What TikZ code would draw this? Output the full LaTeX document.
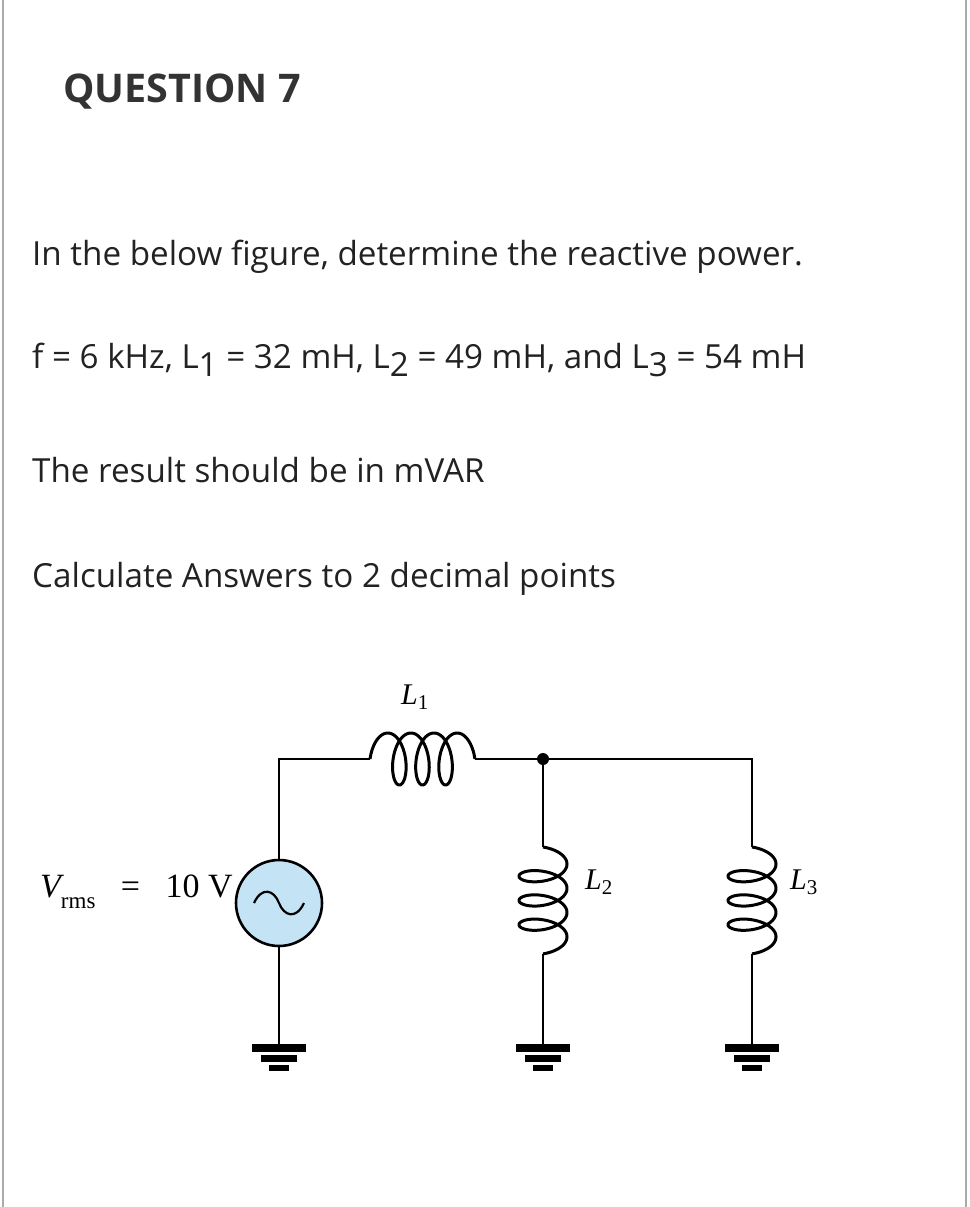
\documentclass[tikz,border=0pt]{standalone}
\usepackage{fontspec}
\setmainfont{Open Sans}
\newfontfamily\tnr{Liberation Serif}
\definecolor{txt}{RGB}{34,34,34}
\definecolor{ttl}{RGB}{51,51,51}
\definecolor{srcfill}{RGB}{196,228,246}
\definecolor{frame}{RGB}{170,170,170}
\newcommand{\sbs}[1]{\raisebox{-0.25em}{#1}}
\begin{document}
\begin{tikzpicture}[x=1pt,y=-1pt,
  body/.style={anchor=base west,inner sep=0pt,text=txt,font=\fontsize{33.2}{36}\selectfont},
  lab/.style={inner sep=0pt,font=\tnr\itshape\fontsize{30}{34}\selectfont},
  wire/.style={line width=1.4pt},
  coil/.style={line width=3pt,line join=round},
  gbar/.style={fill=black,draw=none}]
\useasboundingbox (0,0) rectangle (969,1207);
\draw[frame,line width=1.5pt] (3,0) -- (3,1207) (966,0) -- (966,1207);
\node[body,font=\bfseries\fontsize{39.5}{44}\selectfont,text=ttl] (title) at (63,102) {QUESTION 7};
\node[body] (t1) at (32,265) {In the below figure, determine the reactive power.};
\node[body] (t2) at (32,368) {f = 6 kHz, L\sbs{1} = 32 mH, L\sbs{2} = 49 mH, and L\sbs{3} = 54 mH};
\node[body] (t3) at (32,482) {The result should be in mVAR};
\node[body] (t4) at (32,587) {Calculate Answers to 2 decimal points};
% circuit
\coordinate (a) at (279,759);
\coordinate (l1s) at (370,759);
\coordinate (l1e) at (475,759);
\coordinate (j) at (543,759);
\coordinate (r) at (752,759);
\node[circle,draw,line width=2.6pt,fill=srcfill,minimum size=86pt,inner sep=0pt] (src) at (279,903) {};
\draw[line width=2.2pt] ([xshift=-25pt]src.center) .. controls ([xshift=-17pt,yshift=17pt]src.center) and ([xshift=-5pt,yshift=13pt]src.center) .. (src.center) .. controls ([xshift=5pt,yshift=-13pt]src.center) and ([xshift=17pt,yshift=-17pt]src.center) .. ([xshift=25pt]src.center);
\draw[wire] (src.north) -- (a) -- (l1s);
\draw[wire] (l1e) -- (j) -- (r) -- (752,847);
\draw[wire] (j) -- (543,847);
\fill (j) circle (6pt);
% L1
\draw[coil] plot[domain=0.5*pi:7.5*pi,samples=240,variable=\t] ({370+3.68*(\t-0.5*pi)-12*sin(\t r)+12},{759+26*cos(\t r)});
% L2, L3
\foreach \xx in {543,752}{
\draw[coil] plot[domain=0.5*pi:7.5*pi,samples=240,variable=\t] ({\xx-24*cos(\t r)},{847+3.86*(\t-0.5*pi)-11*sin(\t r)+11});
\draw[wire] (\xx,954) -- (\xx,1044);
\fill (\xx-27,1044) rectangle (\xx+27,1052);
\fill (\xx-18,1055) rectangle (\xx+18,1062);
\fill (\xx-10,1065) rectangle (\xx+10,1071);
}
\draw[wire] (src.south) -- (279,1044);
\fill (252,1044) rectangle (306,1052);
\fill (261,1055) rectangle (297,1062);
\fill (269,1065) rectangle (289,1071);
\node[lab] (lab1) at (415,697) {L\textsubscript{\upshape 1}};
\node[lab,anchor=west] (lab2) at (585,882) {L\textsubscript{\upshape 2}};
\node[lab,anchor=west] (lab3) at (790,882) {L\textsubscript{\upshape 3}};
\node[lab,anchor=base west,font=\tnr\fontsize{34}{38}\selectfont] (vr) at (40,897) {\itshape V\raisebox{-0.35em}{\fontsize{23}{26}\selectfont\upshape rms}\upshape\ \ \ =\ \ \ 10 V};
\end{tikzpicture}
\end{document}
